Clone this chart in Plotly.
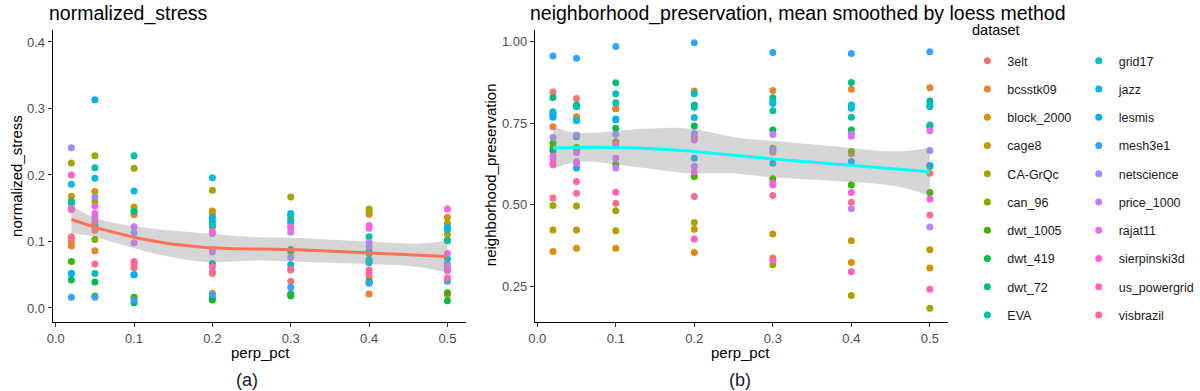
import numpy as np
import plotly.graph_objects as go

# ---------------- data ----------------
perp_pct = [0.02, 0.05, 0.1, 0.2, 0.3, 0.4, 0.5]

datasets = ["3elt", "bcsstk09", "block_2000", "cage8", "CA-GrQc", "can_96",
            "dwt_1005", "dwt_419", "dwt_72", "EVA", "grid17", "jazz", "lesmis",
            "mesh3e1", "netscience", "price_1000", "rajat11", "sierpinski3d",
            "us_powergrid", "visbrazil"]

# ggplot2 default hue palette for 20 levels
colors = ["#F8766D", "#EA8331", "#D89000", "#C09B00", "#A3A500", "#7CAE00",
          "#39B600", "#00BB4E", "#00BF7D", "#00C1A3", "#00BFC4", "#00BAE0",
          "#00B0F6", "#35A2FF", "#9590FF", "#C77CFF", "#E76BF3", "#FA62DB",
          "#FF62BC", "#FF6C91"]

# normalized_stress, one row per dataset, columns follow perp_pct
normalized_stress = [
    [0.107, 0.117, 0.060, 0.052, 0.040, 0.047, 0.043],  # 3elt
    [0.093, 0.086, 0.140, 0.022, 0.022, 0.021, 0.020],  # bcsstk09
    [0.100, 0.175, 0.145, 0.146, 0.140, 0.141, 0.136],  # block_2000
    [0.168, 0.161, 0.152, 0.140, 0.137, 0.145, 0.111],  # cage8
    [0.218, 0.229, 0.210, 0.177, 0.167, 0.149, 0.127],  # CA-GrQc
    [0.160, 0.103, 0.015, 0.122, 0.085, 0.082, 0.066],  # can_96
    [0.070, 0.018, 0.016, 0.012, 0.018, 0.040, 0.023],  # dwt_1005
    [0.042, 0.039, 0.008, 0.015, 0.020, 0.038, 0.011],  # dwt_419
    [0.158, 0.125, 0.145, 0.067, 0.088, 0.070, 0.102],  # dwt_72
    [0.160, 0.211, 0.229, 0.130, 0.132, 0.107, 0.101],  # EVA
    [0.052, 0.052, 0.050, 0.125, 0.065, 0.073, 0.074],  # grid17
    [0.186, 0.195, 0.176, 0.196, 0.142, 0.068, 0.121],  # jazz
    [0.052, 0.313, 0.050, 0.136, 0.128, 0.085, 0.118],  # lesmis
    [0.016, 0.016, 0.012, 0.020, 0.031, 0.037, 0.040],  # mesh3e1
    [0.241, 0.167, 0.113, 0.087, 0.076, 0.092, 0.061],  # netscience
    [0.150, 0.136, 0.122, 0.084, 0.114, 0.099, 0.063],  # price_1000
    [0.148, 0.153, 0.098, 0.112, 0.121, 0.120, 0.082],  # rajat11
    [0.149, 0.142, 0.070, 0.115, 0.122, 0.124, 0.149],  # sierpinski3d
    [0.200, 0.130, 0.065, 0.062, 0.057, 0.052, 0.056],  # us_powergrid
    [0.104, 0.066, 0.068, 0.055, 0.058, 0.057, 0.045],  # visbrazil
]

# neighborhood_preservation, one row per dataset
neighborhood_preservation = [
    [0.846, 0.826, 0.794, 0.711, 0.661, 0.656, 0.596],  # 3elt
    [0.739, 0.770, 0.795, 0.849, 0.850, 0.854, 0.859],  # bcsstk09
    [0.356, 0.366, 0.366, 0.353, 0.336, 0.322, 0.305],  # block_2000
    [0.422, 0.422, 0.420, 0.424, 0.410, 0.389, 0.361],  # cage8
    [0.497, 0.496, 0.481, 0.445, 0.315, 0.221, 0.182],  # CA-GrQc
    [0.675, 0.676, 0.693, 0.705, 0.673, 0.663, 0.617],  # can_96
    [0.689, 0.670, 0.623, 0.586, 0.579, 0.560, 0.537],  # dwt_1005
    [0.665, 0.806, 0.734, 0.741, 0.729, 0.729, 0.740],  # dwt_419
    [0.829, 0.708, 0.874, 0.806, 0.828, 0.875, 0.818],  # dwt_72
    [0.785, 0.800, 0.813, 0.799, 0.788, 0.768, 0.744],  # EVA
    [0.775, 0.758, 0.840, 0.840, 0.815, 0.806, 0.800],  # grid17
    [0.780, 0.758, 0.763, 0.767, 0.810, 0.796, 0.805],  # jazz
    [0.768, 0.612, 0.760, 0.642, 0.627, 0.632, 0.620],  # lesmis
    [0.956, 0.949, 0.985, 0.997, 0.967, 0.964, 0.969],  # mesh3e1
    [0.706, 0.714, 0.716, 0.718, 0.668, 0.717, 0.666],  # netscience
    [0.640, 0.632, 0.612, 0.618, 0.715, 0.487, 0.431],  # price_1000
    [0.649, 0.660, 0.642, 0.698, 0.560, 0.710, 0.727],  # rajat11
    [0.628, 0.628, 0.685, 0.600, 0.565, 0.537, 0.517],  # sierpinski3d
    [0.622, 0.571, 0.538, 0.394, 0.330, 0.294, 0.240],  # us_powergrid
    [0.520, 0.535, 0.504, 0.525, 0.528, 0.507, 0.468],  # visbrazil
]

x_ticks = [0.0, 0.1, 0.2, 0.3, 0.4, 0.5]
x_ticklabels = ["0.0", "0.1", "0.2", "0.3", "0.4", "0.5"]
stress_ticks = [0.0, 0.1, 0.2, 0.3, 0.4]
stress_ticklabels = ["0.0", "0.1", "0.2", "0.3", "0.4"]
np_ticks = [0.25, 0.5, 0.75, 1.0]
np_ticklabels = ["0.25", "0.50", "0.75", "1.00"]


# ------- loess (span 0.75, degree 2), vertex fits + cubic Hermite interpolation -------
def local_rows(x, x0, span=0.75):
    """Rows of the local quadratic smoother giving value and slope at x0."""
    n = len(x)
    q = int(np.floor(n * span))
    d = np.abs(x - x0)
    h = np.sort(d)[q - 1]
    u = np.clip(d / h, 0, 1)
    w = (1 - u ** 3) ** 3
    X = np.column_stack([np.ones(n), x - x0, (x - x0) ** 2])
    XtW = X.T * w
    B = np.linalg.solve(XtW @ X, XtW)
    return B[0], B[1]


def interp_rows(x, verts, xe):
    vals, slopes = zip(*[local_rows(x, v) for v in verts])
    vals, slopes = np.array(vals), np.array(slopes)
    out = []
    for x0 in xe:
        k = int(np.clip(np.searchsorted(verts, x0, side="right") - 1, 0, len(verts) - 2))
        a, b = verts[k], verts[k + 1]
        hh = b - a
        t = (x0 - a) / hh
        h00 = 2 * t ** 3 - 3 * t ** 2 + 1
        h10 = t ** 3 - 2 * t ** 2 + t
        h01 = -2 * t ** 3 + 3 * t ** 2
        h11 = t ** 3 - t ** 2
        out.append(h00 * vals[k] + h10 * hh * slopes[k] + h01 * vals[k + 1] + h11 * hh * slopes[k + 1])
    return np.array(out)


def loess_ci(x, y, ngrid=80):
    x = np.asarray(x, float)
    y = np.asarray(y, float)
    n = len(x)
    verts = np.unique(x)
    L = interp_rows(x, verts, x)
    res = y - L @ y
    M = np.eye(n) - L
    MM = M.T @ M
    d1 = np.trace(MM)
    d2 = np.trace(MM @ MM)
    sigma = np.sqrt(np.sum(res ** 2) / d1)
    df = d1 ** 2 / d2
    z = 1.959964
    t = z + (z ** 3 + z) / (4 * df) + (5 * z ** 5 + 16 * z ** 3 + 3 * z) / (96 * df ** 2)
    xg = np.linspace(x.min(), x.max(), ngrid)
    Lg = interp_rows(x, verts, xg)
    fit = Lg @ y
    se = sigma * np.sqrt(np.sum(Lg ** 2, axis=1))
    return xg, fit, fit - t * se, fit + t * se


def flat(table):
    xs, ys = [], []
    for row in table:
        xs.extend(perp_pct)
        ys.extend(row)
    return np.array(xs), np.array(ys)


fig = go.Figure()

panels = [
    (normalized_stress, "x", "y", "#FF7256"),
    (neighborhood_preservation, "x2", "y2", "#00FFFF"),
]

for pi, (table, xa, ya, lcol) in enumerate(panels):
    for i, name in enumerate(datasets):
        fig.add_trace(go.Scatter(
            x=perp_pct, y=table[i], mode="markers", name=name,
            marker=dict(color=colors[i], size=7, line=dict(width=0)),
            xaxis=xa, yaxis=ya,
            legend="legend" if i < 10 else "legend2",
            legendgroup=name, showlegend=(pi == 0),
        ))
    xs, ys = flat(table)
    xg, fit, lo, hi = loess_ci(xs, ys)
    fig.add_trace(go.Scatter(
        x=np.concatenate([xg, xg[::-1]]), y=np.concatenate([hi, lo[::-1]]),
        fill="toself", fillcolor="rgba(153,153,153,0.4)", line=dict(width=0),
        mode="lines", hoverinfo="skip", showlegend=False, xaxis=xa, yaxis=ya))
    fig.add_trace(go.Scatter(
        x=xg, y=fit, mode="lines", line=dict(color=lcol, width=3),
        showlegend=False, xaxis=xa, yaxis=ya))

W, H = 1200, 391


def px(v):
    return v / W


def py(v):
    return 1 - v / H


FONT = "Liberation Sans, Arial, sans-serif"

axis_common = dict(
    showline=True, linecolor="black", linewidth=1.2, mirror=False,
    ticks="outside", ticklen=4, tickwidth=1, tickcolor="#333333",
    tickfont=dict(family=FONT, size=13, color="#4D4D4D"),
    showgrid=False, zeroline=False, fixedrange=True,
)

legend_common = dict(
    xanchor="left", yanchor="top", font=dict(size=12.5, color="#1A1A1A"),
    tracegroupgap=9, bgcolor="rgba(0,0,0,0)", itemclick=False, itemdoubleclick=False,
)

fig.update_layout(
    width=W, height=H,
    margin=dict(l=0, r=0, t=0, b=0),
    paper_bgcolor="white", plot_bgcolor="white",
    font=dict(family=FONT, color="black"),
    xaxis=dict(domain=[px(46), px(462)], range=[-0.0038, 0.5241],
               tickvals=x_ticks, ticktext=x_ticklabels, anchor="y", **axis_common),
    yaxis=dict(domain=[py(322), py(30)], range=[-0.0211, 0.418],
               tickvals=stress_ticks, ticktext=stress_ticklabels, anchor="x", **axis_common),
    xaxis2=dict(domain=[px(531), px(947)], range=[-0.003, 0.5237],
                tickvals=x_ticks, ticktext=x_ticklabels, anchor="y2", **axis_common),
    yaxis2=dict(domain=[py(322), py(30)], range=[0.1395, 1.036],
                tickvals=np_ticks, ticktext=np_ticklabels, anchor="x2", **axis_common),
    legend=dict(x=px(966), y=py(46), **legend_common),
    legend2=dict(x=px(1078), y=py(46), **legend_common),
    showlegend=True,
)

ann_font = dict(family=FONT, color="black")
annotations = [
    dict(text="normalized_stress", x=px(40), y=py(13), xanchor="left", yanchor="middle",
         font=dict(size=19.5, **ann_font)),
    dict(text="neighborhood_preservation, mean smoothed by loess method", x=px(524), y=py(13),
         xanchor="left", yanchor="middle", font=dict(size=19.5, **ann_font)),
    dict(text="dataset", x=px(969), y=py(30), xanchor="left", yanchor="middle",
         font=dict(size=14.5, **ann_font)),
    dict(text="perp_pct", x=px(255), y=py(352), xanchor="center", yanchor="middle",
         font=dict(size=15, **ann_font)),
    dict(text="perp_pct", x=px(738), y=py(352), xanchor="center", yanchor="middle",
         font=dict(size=15, **ann_font)),
    dict(text="normalized_stress", x=px(9), y=py(176), xanchor="center", yanchor="middle",
         textangle=-90, font=dict(size=15, **ann_font)),
    dict(text="neighborhood_preservation", x=px(486), y=py(175), xanchor="center",
         yanchor="middle", textangle=-90, font=dict(size=15, **ann_font)),
    dict(text="(a)", x=px(241), y=py(380), xanchor="center", yanchor="middle",
         font=dict(size=18, family=FONT, color="#1A1A2E")),
    dict(text="(b)", x=px(737), y=py(380), xanchor="center", yanchor="middle",
         font=dict(size=18, family=FONT, color="#1A1A2E")),
]
for a in annotations:
    a.update(xref="paper", yref="paper", showarrow=False)
fig.update_layout(annotations=annotations)

fig.write_html("out.html", config={"displayModeBar": False},
               post_script="document.body.style.margin='0px';document.body.style.overflow='hidden';")
